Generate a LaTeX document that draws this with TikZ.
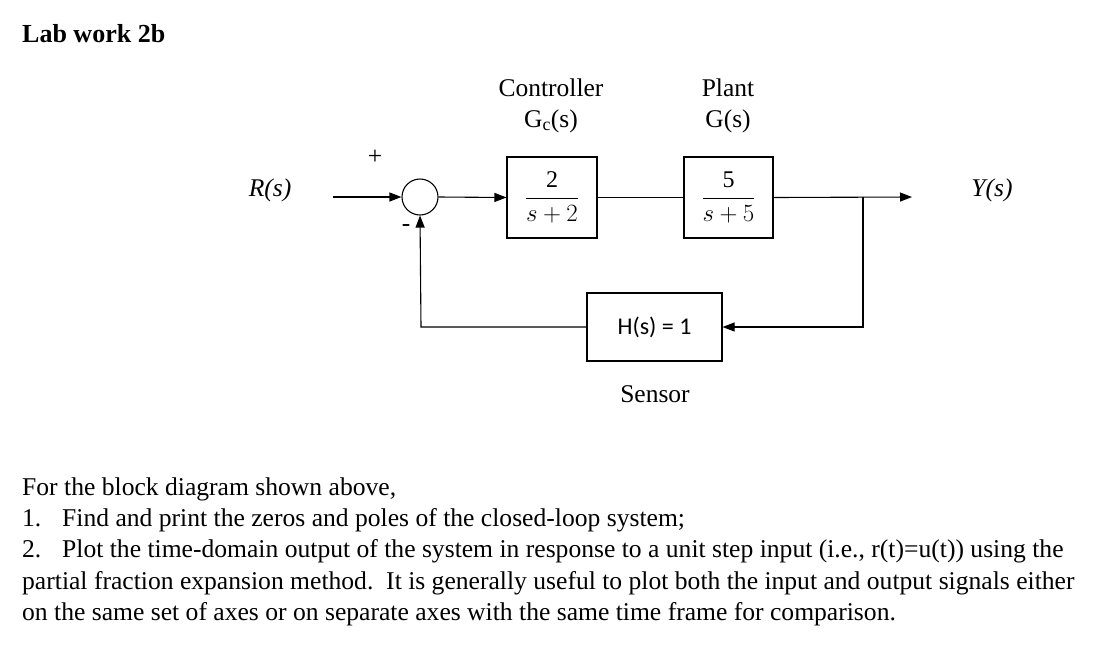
\documentclass[tikz,border=0pt]{standalone}
\usepackage{fontspec}
\setmainfont{Liberation Serif}
\newfontfamily\blk{Carlito}
\usetikzlibrary{arrows.meta}
\begin{document}
\begin{tikzpicture}[x=1pt,y=-1pt,
  blk/.style={draw,line width=1.1pt,inner sep=0pt},
  lbl/.style={font=\fontsize{25.5}{30}\selectfont},
  txt/.style={font=\fontsize{25.6}{30}\selectfont,anchor=base west,inner sep=0pt},
  sig/.style={line width=1.1pt},
  arr/.style={sig,-{Triangle[length=12pt,width=9pt]}}]
\useasboundingbox (0,0) rectangle (1108,662);
\node[anchor=base west,inner sep=0pt,font=\fontsize{26}{30}\selectfont\bfseries] (title) at (22,42) {Lab work 2b};
\node[lbl] (ctl) at (551,88) {Controller};
\node[lbl] (gc) at (551,121) {G$_{\mathrm{c}}$(s)};
\node[lbl] (pl) at (728,88) {Plant};
\node[lbl] (gs) at (728,121) {G(s)};
\node[blk,minimum width=90pt,minimum height=81pt,font=\blk\fontsize{24}{28}\selectfont] (b1) at (552,197.5) {$\displaystyle\frac{\mathrm{2}}{s+2}$};
\node[blk,minimum width=89pt,minimum height=81pt,font=\blk\fontsize{24}{28}\selectfont] (b2) at (728.5,197.5) {$\displaystyle\frac{\mathrm{5}}{s+5}$};
\node[blk,minimum width=135pt,minimum height=68pt,font=\blk\fontsize{24}{28}\selectfont] (h) at (654.5,327) {H(s) = 1};
\node[draw,circle,line width=1.1pt,minimum size=36pt,inner sep=0pt] (sum) at (420,197) {};
\node[lbl,font=\fontsize{25.5}{30}\selectfont\itshape] (r) at (270,190) {R(s)};
\node[lbl,font=\fontsize{25.5}{30}\selectfont\itshape] (y) at (992,190) {Y(s)};
\node[lbl] (plus) at (375,157) {+};
\node[lbl] (minus) at (406,228) {-};
\node[lbl] (sensor) at (655,394) {Sensor};
\coordinate (rin) at (333,197);
\coordinate (yout) at (912,197);
\coordinate (tap) at (863,197);
\coordinate (fb1) at (863,327);
\coordinate (fb2) at (421,327);
\draw[arr] (rin) -- (sum.west);
\draw[arr] (sum.east) -- (b1.west);
\draw[sig] (b1.east) -- (b2.west);
\draw[arr] (b2.east) -- (yout);
\draw[arr] (tap) -- (fb1) -- (h.east);
\draw[arr] (h.west) -- (fb2) -- (sum.south);
\node[txt] (l1) at (22,495) {For the block diagram shown above,};
\node[txt] (l2n) at (22,526) {1.};
\node[txt] (l2) at (62,526) {Find and print the zeros and poles of the closed-loop system;};
\node[txt] (l3n) at (22,557) {2.};
\node[txt] (l3) at (62,557) {Plot the time-domain output of the system in response to a unit step input (i.e., r(t)=u(t)) using the};
\node[txt] (l4) at (22,589) {partial fraction expansion method.\ \ It is generally useful to plot both the input and output signals either};
\node[txt] (l5) at (22,620) {on the same set of axes or on separate axes with the same time frame for comparison.};
\end{tikzpicture}
\end{document}
